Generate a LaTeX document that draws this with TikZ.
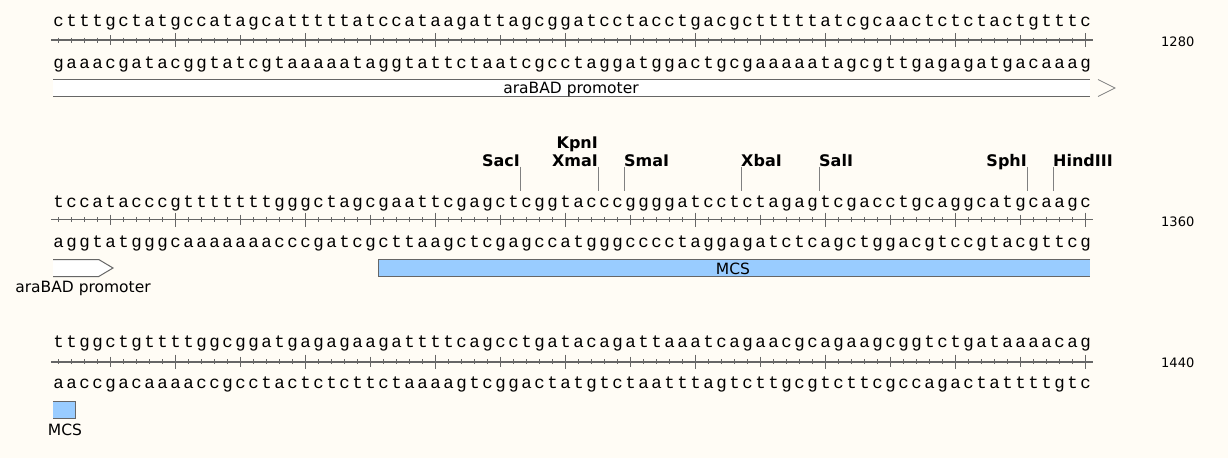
\documentclass[tikz,border=0pt]{standalone}
\usepackage{fontspec}
\setmainfont{DejaVu Sans}
\newfontfamily\seqfont{Liberation Mono}
\definecolor{bgcream}{RGB}{255,252,245}
\definecolor{rulergray}{RGB}{102,102,102}
\definecolor{sitegray}{RGB}{128,128,128}
\definecolor{mcsblue}{RGB}{153,204,255}
% one 13pt cell per base
\newcommand\bases[1]{\basesloop#1\relax}
\def\basesloop#1{\ifx#1\relax\else\makebox[13pt]{#1}\expandafter\basesloop\fi}

\begin{document}
\begin{tikzpicture}[x=1pt, y=-1pt,
    seq/.style={font=\seqfont\fontsize{17.5}{19}\selectfont, anchor=base west, inner sep=0pt, text=black},
    ruler/.style={draw=rulergray, line width=1.7pt},
    tick/.style={draw=rulergray, line width=1.4pt},
    site/.style={font=\bfseries\fontsize{16}{18}\selectfont, inner sep=0pt},
    siteline/.style={draw=sitegray, line width=1pt},
    featbox/.style={draw=rulergray, line width=1pt},
    featlabel/.style={font=\fontsize{15.5}{17}\selectfont, anchor=base, inner sep=0pt},
    poslabel/.style={font=\fontsize{13}{15}\selectfont, anchor=west, inner sep=0pt}]
    \fill[bgcream] (0,0) rectangle (1228,458);
    \useasboundingbox (0,0) rectangle (1228,458);

    % rulers
    \foreach \ry in {40,219.5,361.7} {
        \draw[ruler] (51,\ry) -- (1093,\ry);
        \foreach \n in {1,...,80} {
            \pgfmathsetmacro\tk{mod(\n,10)==0 ? 7 : (mod(\n,5)==0 ? 5 : 2.5)}
            \draw[tick] (45.5+13*\n,\ry-\tk) -- (45.5+13*\n,\ry+\tk);
        }
    }

    % sequences
    \node[seq] (top1) at (52,26.5) {\bases{ctttgctatgccatagcatttttatccataagattagcggatcctacctgacgctttttatcgcaactctctactgtttc}};
    \node[seq] (bot1) at (52,68.3) {\bases{gaaacgatacggtatcgtaaaaataggtattctaatcgcctaggatggactgcgaaaaatagcgttgagagatgacaaag}};
    \node[seq] (top2) at (52,207) {\bases{tccatacccgtttttttgggctagcgaattcgagctcggtacccggggatcctctagagtcgacctgcaggcatgcaagc}};
    \node[seq] (bot2) at (52,247.3) {\bases{aggtatgggcaaaaaaacccgatcgcttaagctcgagccatgggcccctaggagatctcagctggacgtccgtacgttcg}};
    \node[seq] (top3) at (52,347.7) {\bases{ttggctgttttggcggatgagagaagattttcagcctgatacagattaaatcagaacgcagaagcggtctgataaaacag}};
    \node[seq] (bot3) at (52,388.3) {\bases{aaccgacaaaaccgcctactctcttctaaaagtcggactatgtctaatttagtcttgcgtcttcgccagactattttgtc}};

    \node[poslabel] (pos1) at (1161,41.3) {1280};
    \node[poslabel] (pos2) at (1161,221.5) {1360};
    \node[poslabel] (pos3) at (1161,363) {1440};

    % araBAD promoter
    \fill[white] (53,79.5) rectangle (1090,96.5);
    \draw[featbox] (53,79.5) -- (1090,79.5) (53,96.5) -- (1090,96.5);
    \draw[draw=sitegray, line width=0.8pt] (1098,79.5) -- (1115,88) -- (1098,96.5);
    \node[featlabel] (prom1) at (571,93.5) {araBAD promoter};
    \filldraw[featbox, fill=white] (53,259.5) -- (98.7,259.5) -- (113,268) -- (98.7,276.5) -- (53,276.5);
    \node[featlabel] (prom2) at (83,292.5) {araBAD promoter};

    % MCS
    \filldraw[featbox, fill=mcsblue] (1090,259.5) -- (378,259.5) -- (378,276.5) -- (1090,276.5);
    \node[featlabel] (mcs1) at (733,274) {MCS};
    \filldraw[featbox, fill=mcsblue] (53,401.7) -- (75.7,401.7) -- (75.7,418.3) -- (53,418.3);
    \node[featlabel] (mcs2) at (65,435) {MCS};

    % restriction sites
    \coordinate (sacIcut) at (520,190.5);
    \coordinate (xmaIcut) at (598,190.5);
    \coordinate (smaIcut) at (624,190.5);
    \coordinate (xbaIcut) at (741,190.5);
    \coordinate (salIcut) at (819,190.5);
    \coordinate (sphIcut) at (1027,190.5);
    \coordinate (hindIIIcut) at (1053,190.5);
    \node[site, anchor=base east] (sacI) at (520,166.5) {SacI};
    \node[site, anchor=base east] (xmaI) at (598,166.5) {XmaI};
    \node[site, anchor=base east] (kpnI) at (598,148.5) {KpnI};
    \node[site, anchor=base west] (smaI) at (624,166.5) {SmaI};
    \node[site, anchor=base west] (xbaI) at (741,166.5) {XbaI};
    \node[site, anchor=base west] (salI) at (819,166.5) {SalI};
    \node[site, anchor=base east] (sphI) at (1027,166.5) {SphI};
    \node[site, anchor=base west] (hindIII) at (1053,166.5) {HindIII};
    \draw[siteline] (sacI.base east) -- (sacIcut);
    \draw[siteline] (xmaI.base east) -- (xmaIcut);
    \draw[siteline] (smaI.base west) -- (smaIcut);
    \draw[siteline] (xbaI.base west) -- (xbaIcut);
    \draw[siteline] (salI.base west) -- (salIcut);
    \draw[siteline] (sphI.base east) -- (sphIcut);
    \draw[siteline] (hindIII.base west) -- (hindIIIcut);
\end{tikzpicture}
\end{document}
